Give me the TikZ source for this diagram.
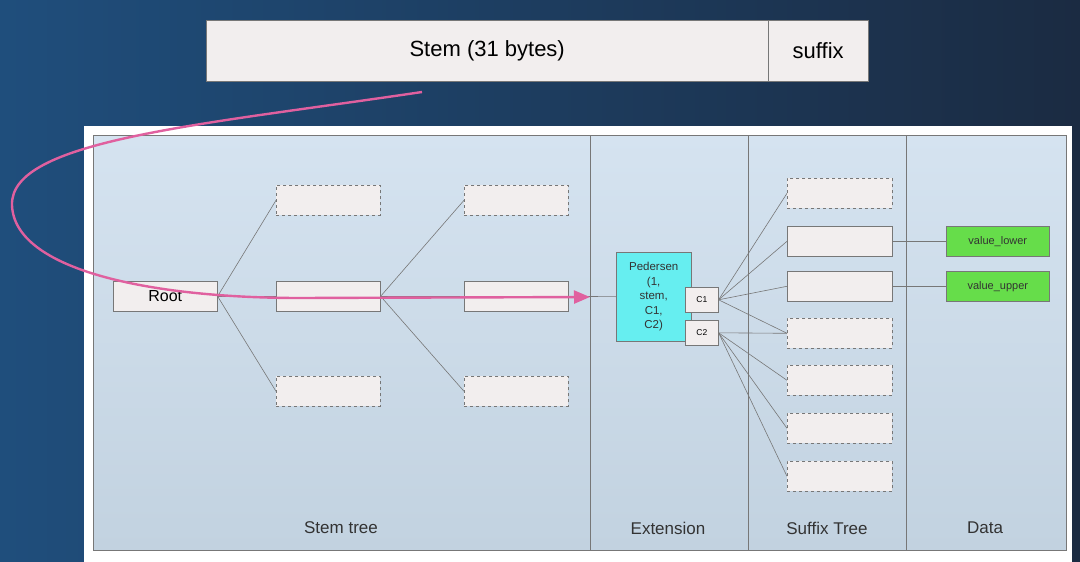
\documentclass[tikz,border=0pt]{standalone}
\usepackage{fontspec}
\setmainfont{Liberation Sans}
\usetikzlibrary{arrows.meta}
\definecolor{bgl}{HTML}{1F4E7C}
\definecolor{bgr}{HTML}{1B2B42}
\definecolor{boxf}{HTML}{F2EEEE}
\definecolor{edge}{HTML}{777777}
\definecolor{pinkc}{HTML}{E0609F}
\definecolor{pant}{HTML}{D5E3F0}
\definecolor{panb}{HTML}{C2D2E0}
\definecolor{cyanf}{HTML}{66EEF0}
\definecolor{greenf}{HTML}{66DD4A}
\begin{document}
\begin{tikzpicture}[x=1pt,y=-1pt,
  box/.style={draw=edge,fill=boxf,line width=0.6pt,minimum width=104pt,minimum height=30pt,inner sep=0pt,anchor=north west},
  dbox/.style={box,dashed},
  sbox/.style={draw=edge,fill=boxf,line width=0.6pt,minimum width=33pt,minimum height=25pt,inner sep=0pt,anchor=north west,font=\fontsize{8.5}{9}\selectfont},
  gbox/.style={draw=edge,fill=greenf,line width=0.6pt,minimum width=103pt,minimum height=30pt,inner sep=0pt,anchor=north west,font=\fontsize{11}{12}\selectfont,text=black!80},
  con/.style={draw=edge,line width=0.6pt},
  lab/.style={font=\fontsize{17}{18}\selectfont,text=black!80}]
\useasboundingbox (0,0) rectangle (1080,562);
\shade[left color=bgl,right color=bgr] (0,0) rectangle (1080,562);
\node[draw=edge,fill=boxf,minimum width=562pt,minimum height=61pt,inner sep=0pt,anchor=north west,font=\fontsize{22}{24}\selectfont] (stem) at (206,20) {Stem (31 bytes)};
\node[draw=edge,fill=boxf,minimum width=100pt,minimum height=61pt,inner sep=0pt,anchor=north west,font=\fontsize{22}{24}\selectfont] (suf) at (768,20) {suffix};
\fill[white] (84,126) rectangle (1072,562);
\shade[top color=pant,bottom color=panb] (93,135) rectangle (1066,550);
\draw[edge] (93,135) rectangle (1066,550);
\foreach \x in {590,748,906} \draw[edge] (\x,135) -- (\x,550);
\node[lab] at (341,528) {Stem tree};
\node[lab] at (668,528) {Extension};
\node[lab] at (827,528) {Suffix Tree};
\node[lab] at (985,528) {Data};
\node[box,font=\fontsize{16}{17}\selectfont] (root) at (113,281) {Root};
\node[dbox] (a1) at (276,185) {};
\node[box] (a2) at (276,281) {};
\node[dbox] (a3) at (276,376) {};
\node[dbox] (b1) at (464,185) {};
\node[box] (b2) at (464,281) {};
\node[dbox] (b3) at (464,376) {};
\node[draw=edge,fill=cyanf,minimum width=75pt,minimum height=89pt,inner sep=0pt,anchor=north west,align=center,font=\fontsize{11.5}{14.5}\selectfont,text=black!80] (ped) at (616,252) {Pedersen\\(1,\\stem,\\C1,\\C2)};
\node[sbox] (c1) at (685,287) {C1};
\node[sbox] (c2) at (685,320) {C2};
\node[dbox,minimum width=105pt] (s1) at (787,178) {};
\node[box,minimum width=105pt] (s2) at (787,226) {};
\node[box,minimum width=105pt] (s3) at (787,271) {};
\node[dbox,minimum width=105pt] (s4) at (787,318) {};
\node[dbox,minimum width=105pt] (s5) at (787,365) {};
\node[dbox,minimum width=105pt] (s6) at (787,413) {};
\node[dbox,minimum width=105pt] (s7) at (787,461) {};
\node[gbox] (v1) at (946,226) {value\_lower};
\node[gbox] (v2) at (946,271) {value\_upper};
\foreach \t in {a1,a2,a3} \draw[con] (root.east) -- (\t.west);
\foreach \t in {b1,b2,b3} \draw[con] (a2.east) -- (\t.west);
\draw[con] (b2.east) -- (ped.west);
\foreach \t in {s1,s2,s3,s4} \draw[con] (c1.east) -- (\t.west);
\foreach \t in {s4,s5,s6,s7} \draw[con] (c2.east) -- (\t.west);
\draw[con] (s2.east) -- (v1.west);
\draw[con] (s3.east) -- (v2.west);
\coordinate (p0) at (422,92);
\coordinate (p1) at (590,297);
\draw[pinkc,line width=2.4pt,-{Triangle[length=16pt,width=13pt]}] (p0) .. controls (200,125) and (10,140) .. (12,205) .. controls (14,270) and (150,298) .. (300,298) -- (p1);
\end{tikzpicture}
\end{document}
